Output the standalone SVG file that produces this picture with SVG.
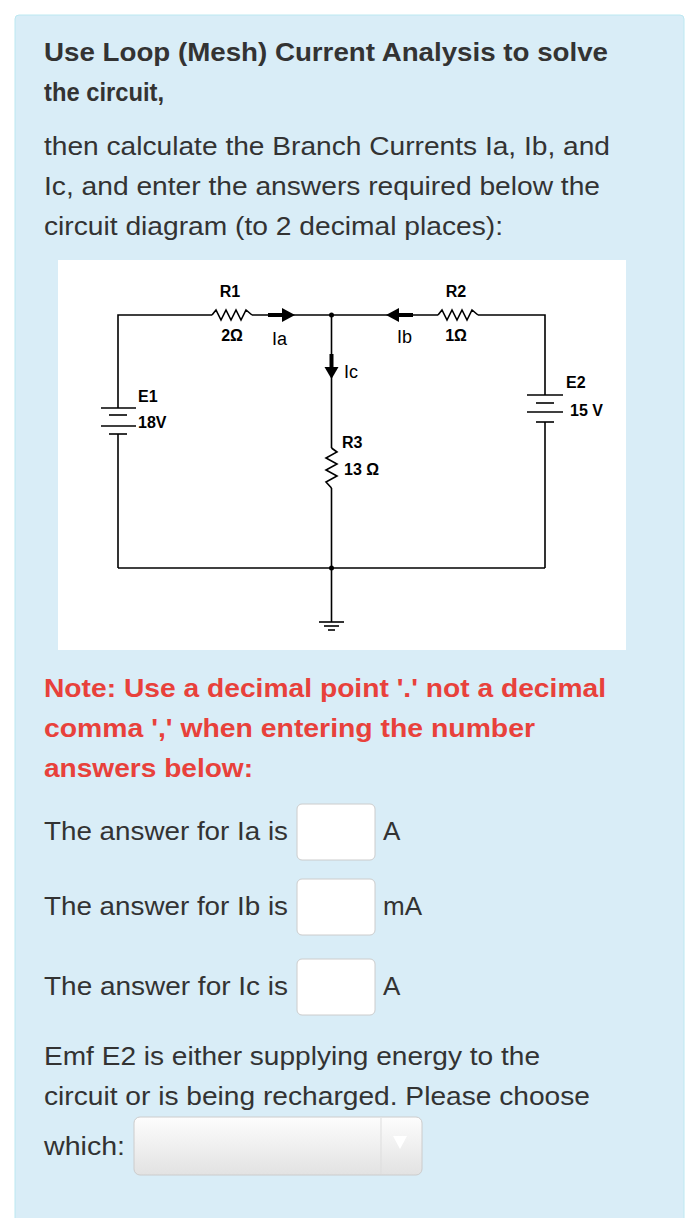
<svg xmlns="http://www.w3.org/2000/svg" width="686" height="1218" viewBox="0 0 686 1218">
<style>
.t{font-family:"Liberation Sans",Arial,sans-serif;fill:#333;font-size:26px}
.b{font-weight:bold;font-size:25px}
.r{fill:#e8413b;font-weight:bold;font-size:25px}
.c{font-family:"Liberation Sans",Arial,sans-serif;fill:#000;font-size:16px;font-weight:bold}
.cn{font-family:"Liberation Sans",Arial,sans-serif;fill:#000;font-size:18px}
.w{stroke:#000;stroke-width:1.6;fill:none}
.box{fill:#fff;stroke:#ccc;stroke-width:1}
</style>
<defs>
<linearGradient id="g" x1="0" y1="0" x2="0" y2="1"><stop offset="0" stop-color="#fdfdfd"/><stop offset="1" stop-color="#e2e2e2"/></linearGradient>
</defs>
<rect x="0" y="0" width="686" height="1218" fill="#fff"/>
<rect x="15" y="15" width="669" height="1220" rx="4" fill="#d9edf7" stroke="#bce8f1"/>
<g id="texts">
<text class="t b" x="44" y="61" textLength="564" lengthAdjust="spacingAndGlyphs">Use Loop (Mesh) Current Analysis to solve</text>
<text class="t b" x="44" y="101" textLength="120" lengthAdjust="spacingAndGlyphs">the circuit,</text>
<text class="t" x="44" y="155" textLength="566" lengthAdjust="spacingAndGlyphs">then calculate the Branch Currents Ia, Ib, and</text>
<text class="t" x="44" y="195" textLength="556" lengthAdjust="spacingAndGlyphs">Ic, and enter the answers required below the</text>
<text class="t" x="44" y="235" textLength="459" lengthAdjust="spacingAndGlyphs">circuit diagram (to 2 decimal places):</text>
<text class="t r" x="44" y="697" textLength="562" lengthAdjust="spacingAndGlyphs">Note: Use a decimal point '.' not a decimal</text>
<text class="t r" x="44" y="737" textLength="491" lengthAdjust="spacingAndGlyphs">comma ',' when entering the number</text>
<text class="t r" x="44" y="777" textLength="209" lengthAdjust="spacingAndGlyphs">answers below:</text>
<text class="t" x="44" y="840" textLength="244" lengthAdjust="spacingAndGlyphs">The answer for Ia is</text>
<text class="t" x="383" y="840">A</text>
<text class="t" x="44" y="915" textLength="244" lengthAdjust="spacingAndGlyphs">The answer for Ib is</text>
<text class="t" x="383" y="915">mA</text>
<text class="t" x="44" y="995" textLength="244" lengthAdjust="spacingAndGlyphs">The answer for Ic is</text>
<text class="t" x="383" y="995">A</text>
<text class="t" x="44" y="1065" textLength="496" lengthAdjust="spacingAndGlyphs">Emf E2 is either supplying energy to the</text>
<text class="t" x="44" y="1105" textLength="546" lengthAdjust="spacingAndGlyphs">circuit or is being recharged. Please choose</text>
<text class="t" x="44" y="1155" textLength="81" lengthAdjust="spacingAndGlyphs">which:</text>
</g>
<g id="inputs">
<rect class="box" x="297" y="804" width="78" height="56" rx="5"/>
<rect class="box" x="297" y="879" width="78" height="56" rx="5"/>
<rect class="box" x="297" y="959" width="78" height="56" rx="5"/>
<rect x="134" y="1117" width="288" height="58" rx="6" fill="url(#g)" stroke="#ccc"/>
<line x1="381" y1="1118" x2="381" y2="1174" stroke="#ddd"/>
<polygon points="393,1136 407,1136 400,1149" fill="#fff"/>
</g>
<g id="circuit">
<rect x="58" y="260" width="568" height="390" fill="#fff"/>
<g id="connectors" class="w">
<polyline points="212,315 118,315 118,408"/>
<line x1="118" y1="434" x2="118" y2="568"/>
<line x1="252" y1="315" x2="438" y2="315"/>
<polyline points="478,315 545,315 545,395"/>
<line x1="545" y1="422" x2="545" y2="568"/>
<line x1="118" y1="568" x2="545" y2="568"/>
<line x1="331.5" y1="315" x2="331.5" y2="448"/>
<line x1="331.5" y1="488" x2="331.5" y2="622"/>
</g>
<g id="R1"><polyline class="w" points="212,315 216,310 221,320 226,310 231,320 236,310 241,320 246,310 252,315"/>
<text class="c" x="230" y="297" text-anchor="middle">R1</text><text class="c" x="232" y="341" text-anchor="middle">2Ω</text></g>
<g id="R2"><polyline class="w" points="438,315 442,310 447,320 452,310 457,320 462,310 467,320 472,310 478,315"/>
<text class="c" x="456" y="297" text-anchor="middle">R2</text><text class="c" x="456" y="341" text-anchor="middle">1Ω</text></g>
<g id="R3"><polyline class="w" points="331.5,448 337,452 326,458 337,464 326,470 337,476 326,482 331.5,488"/>
<text class="c" x="342" y="448">R3</text><text class="c" x="344" y="475">13 Ω</text></g>
<g id="E1" class="w"><line x1="101" y1="408" x2="136" y2="408"/><line x1="109" y1="415" x2="127" y2="415"/><line x1="101" y1="426" x2="136" y2="426"/><line x1="109" y1="434" x2="127" y2="434"/></g>
<text class="c" x="138" y="402">E1</text><text class="c" x="138" y="428">18V</text>
<g id="E2" class="w"><line x1="527" y1="395" x2="563" y2="395"/><line x1="536" y1="403" x2="554" y2="403"/><line x1="527" y1="412" x2="563" y2="412"/><line x1="536" y1="422" x2="554" y2="422"/></g>
<text class="c" x="566" y="388">E2</text><text class="c" x="570" y="416">15 V</text>
<g id="arrows">
<line x1="268" y1="315" x2="285" y2="315" stroke="#000" stroke-width="4"/><polygon points="282,308 295,315 282,322"/>
<line x1="396" y1="315" x2="413" y2="315" stroke="#000" stroke-width="4"/><polygon points="399,308 386,315 399,322"/>
<line x1="331.5" y1="354" x2="331.5" y2="370" stroke="#000" stroke-width="4"/><polygon points="324.5,367 338.5,367 331.5,379"/>
</g>
<text class="cn" x="272" y="345">Ia</text><text class="cn" x="397" y="343">Ib</text><text class="cn" x="344" y="378">Ic</text>
<circle cx="331.5" cy="315" r="2.5"/><circle cx="331.5" cy="568" r="2.5"/>
<g id="ground" class="w"><line x1="319" y1="622" x2="344" y2="622"/><line x1="324" y1="626" x2="339" y2="626"/><line x1="328" y1="630" x2="335" y2="630"/></g>
</g>
</svg>
